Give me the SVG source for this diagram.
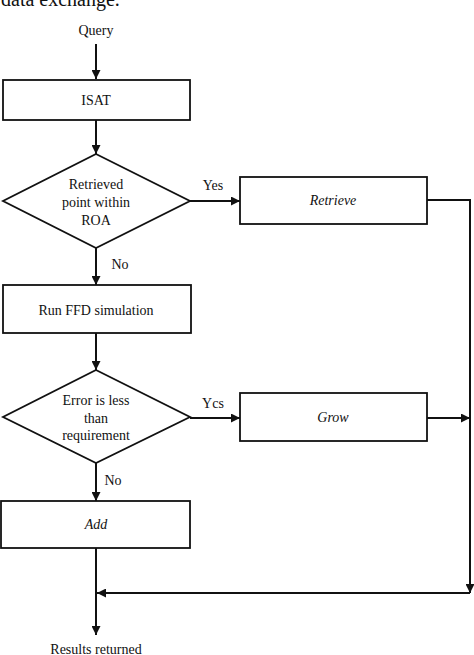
<svg xmlns="http://www.w3.org/2000/svg" width="474" height="655" viewBox="0 0 474 655">
<style>
text{font-family:'Liberation Serif','Times New Roman','DejaVu Serif',serif;font-size:14px;fill:#111;text-anchor:middle}
.it{font-style:italic}
.box{fill:#fff;stroke:#111;stroke-width:1.8}
.ln{fill:none;stroke:#111;stroke-width:2}
</style>
<defs>
<marker id="ah" viewBox="0 0 10 10" refX="10" refY="5" markerWidth="9" markerHeight="9" markerUnits="userSpaceOnUse" orient="auto">
<path d="M0,0 L10,5 L0,10 Z" fill="#111"/>
</marker>
</defs>
<rect width="474" height="655" fill="#fff"/>
<g font-family="'Liberation Serif', 'DejaVu Serif', serif">
<text x="1" y="6" style="font-size:20px;text-anchor:start">data exchange.</text>
<g id="connectors">
<line class="ln" x1="96" y1="44" x2="96" y2="79" marker-end="url(#ah)"/>
<line class="ln" x1="96" y1="120" x2="96" y2="154" marker-end="url(#ah)"/>
<line class="ln" x1="190" y1="201" x2="240" y2="201" marker-end="url(#ah)"/>
<polyline class="ln" points="427,200 470,200 470,593" marker-end="url(#ah)"/>
<line class="ln" x1="96" y1="248" x2="96" y2="285" marker-end="url(#ah)"/>
<line class="ln" x1="96" y1="333" x2="96" y2="370" marker-end="url(#ah)"/>
<line class="ln" x1="190" y1="418" x2="240" y2="418" marker-end="url(#ah)"/>
<line class="ln" x1="427" y1="418" x2="470" y2="418" marker-end="url(#ah)"/>
<line class="ln" x1="96" y1="463" x2="96" y2="501" marker-end="url(#ah)"/>
<line class="ln" x1="470" y1="593" x2="97" y2="593" marker-end="url(#ah)"/>
<line class="ln" x1="96" y1="548" x2="96" y2="635" marker-end="url(#ah)"/>
<text x="213" y="190">Yes</text>
<text x="120" y="269">No</text>
<text x="213" y="408">Ycs</text>
<text x="113" y="485">No</text>
</g>
<g id="query"><text x="96" y="35">Query</text></g>
<g id="isat"><rect class="box" x="3" y="80" width="187" height="40"/><text x="96" y="105">ISAT</text></g>
<g id="decision1"><polygon class="box" points="96,154 190,201 96,248 3,201"/>
<text x="96" y="189">Retrieved</text><text x="96" y="207">point within</text><text x="96" y="225">ROA</text></g>
<g id="retrieve"><rect class="box" x="240" y="177" width="187" height="47"/><text class="it" x="333" y="205">Retrieve</text></g>
<g id="ffd"><rect class="box" x="3" y="285" width="188" height="48"/><text x="96" y="315">Run FFD simulation</text></g>
<g id="decision2"><polygon class="box" points="96,370 190,417 96,463 3,417"/>
<text x="96" y="405">Error is less</text><text x="96" y="423">than</text><text x="96" y="440">requirement</text></g>
<g id="grow"><rect class="box" x="240" y="393" width="187" height="48"/><text class="it" x="333" y="422">Grow</text></g>
<g id="add"><rect class="box" x="1" y="501" width="189" height="47"/><text class="it" x="96" y="529">Add</text></g>
<g id="results"><text x="96" y="654">Results returned</text></g>
</g>
</svg>
